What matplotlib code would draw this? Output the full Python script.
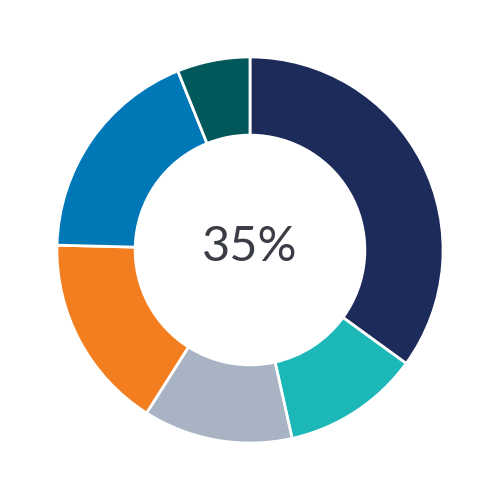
import matplotlib
matplotlib.use("Agg")
import matplotlib.pyplot as plt

# slice shares, clockwise from 12 o'clock
labels = ["navy", "teal", "gray", "orange", "blue", "dark teal"]
values = [35, 11.5, 12.5, 16.4, 18.5, 6.1]
colors = ["#1c2b5a", "#1cb8b8", "#a8b4c4", "#f27e20", "#0077b6", "#00585a"]
center_text = "35%"

fig = plt.figure(figsize=(5, 5), dpi=100)
ax = fig.add_axes([0, 0, 1, 1])
ax.pie(values, colors=colors, startangle=90, counterclock=False,
       radius=1.0,
       wedgeprops=dict(width=0.405, edgecolor="white", linewidth=2))
ax.text(0, 0.015, center_text, ha="center", va="center", fontsize=35,
        family="Lato", fontweight="normal", color="#3a3d45")
ax.set_xlim(-1.295, 1.295)
ax.set_ylim(-1.295, 1.295)
ax.set_aspect("equal")
ax.axis("off")
fig.savefig("out.png", dpi=100, facecolor="white")
